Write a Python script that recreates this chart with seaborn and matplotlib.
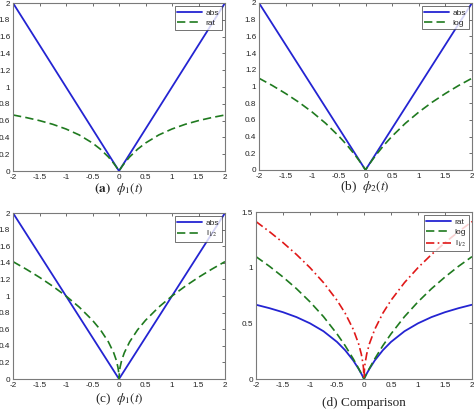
import matplotlib
matplotlib.use("Agg")
import matplotlib.pyplot as plt
import seaborn as sns
import numpy as np

# ---- data ----
t = [-2, -1.75, -1.5, -1.25, -1, -0.75, -0.5, -0.35, -0.2, -0.1, -0.05, -0.02, -0.01, 0,
     0.01, 0.02, 0.05, 0.1, 0.2, 0.35, 0.5, 0.75, 1, 1.25, 1.5, 1.75, 2]
abs_vals = [2, 1.75, 1.5, 1.25, 1, 0.75, 0.5, 0.35, 0.2, 0.1, 0.05, 0.02, 0.01, 0,
            0.01, 0.02, 0.05, 0.1, 0.2, 0.35, 0.5, 0.75, 1, 1.25, 1.5, 1.75, 2]
rat_vals = [0.667, 0.636, 0.600, 0.556, 0.500, 0.429, 0.333, 0.259, 0.167, 0.091, 0.048, 0.020, 0.010, 0,
            0.010, 0.020, 0.048, 0.091, 0.167, 0.259, 0.333, 0.429, 0.500, 0.556, 0.600, 0.636, 0.667]
log_vals = [1.099, 1.012, 0.916, 0.811, 0.693, 0.560, 0.405, 0.300, 0.182, 0.095, 0.049, 0.020, 0.010, 0,
            0.010, 0.020, 0.049, 0.095, 0.182, 0.300, 0.405, 0.560, 0.693, 0.811, 0.916, 1.012, 1.099]
l12_vals = [1.414, 1.323, 1.225, 1.118, 1.000, 0.866, 0.707, 0.592, 0.447, 0.316, 0.224, 0.141, 0.100, 0,
            0.100, 0.141, 0.224, 0.316, 0.447, 0.592, 0.707, 0.866, 1.000, 1.118, 1.225, 1.323, 1.414]

xticks = [-2, -1.5, -1, -0.5, 0, 0.5, 1, 1.5, 2]
xticklabels = ["-2", "-1.5", "-1", "-0.5", "0", "0.5", "1", "1.5", "2"]
yticks_a = [0, 0.2, 0.4, 0.6, 0.8, 1, 1.2, 1.4, 1.6, 1.8, 2]
yticklabels_a = ["0", "0.2", "0.4", "0.6", "0.8", "1", "1.2", "1.4", "1.6", "1.8", "2"]
yticks_d = [0, 0.5, 1, 1.5]
yticklabels_d = ["0", "0.5", "1", "1.5"]

captions = [r"$\mathbf{(a)}$  $\phi_1(t)$", r"(b)  $\phi_2(t)$", r"(c)  $\phi_1(t)$", "(d) Comparison"]

sns.set_style("white")
plt.rcParams["font.family"] = ["Liberation Sans", "DejaVu Sans"]
plt.rcParams["mathtext.fontset"] = "stix"

BLUE = "#2424d2"
GREEN = "#1f7a1f"
RED = "#e01818"

W, H = 474, 411
fig = plt.figure(figsize=(W / 100, H / 100), dpi=100)
fig.patch.set_facecolor("white")

def box(l, r, top, bottom):
    return [l / W, 1 - bottom / H, (r - l) / W, (bottom - top) / H]

axes = [
    fig.add_axes(box(13, 225, 3, 171)),
    fig.add_axes(box(259, 472, 3, 170)),
    fig.add_axes(box(13, 225, 213, 379)),
    fig.add_axes(box(256, 472, 212, 379)),
]

lw_solid = 1.3
lw_dash = 1.2
dash = (0, (5, 2.5))
dashdot = (0, (5, 2, 1, 2))

specs = [
    [(abs_vals, BLUE, "-", "abs"), (rat_vals, GREEN, dash, "rat")],
    [(abs_vals, BLUE, "-", "abs"), (log_vals, GREEN, dash, "log")],
    [(abs_vals, BLUE, "-", "abs"), (l12_vals, GREEN, dash, r"l$_{1/2}$")],
    [(rat_vals, BLUE, "-", "rat"), (log_vals, GREEN, dash, "log"), (l12_vals, RED, dashdot, r"l$_{1/2}$")],
]

for i, ax in enumerate(axes):
    for vals, c, ls, lab in specs[i]:
        sns.lineplot(x=t, y=vals, ax=ax, color=c, linestyle=ls, label=lab,
                     linewidth=lw_solid if ls == "-" else lw_dash, estimator=None)
    ax.set_xlim(-2, 2)
    ax.set_xticks(xticks)
    ax.set_xticklabels(xticklabels)
    if i < 3:
        ax.set_ylim(0, 2)
        ax.set_yticks(yticks_a)
        ax.set_yticklabels(yticklabels_a)
    else:
        ax.set_ylim(0, 1.5)
        ax.set_yticks(yticks_d)
        ax.set_yticklabels(yticklabels_d)
    ax.tick_params(direction="in", length=2.5, width=0.6, labelsize=5.9,
                   top=True, right=True, colors="#555555", labelcolor="#222222", pad=2)
    for s in ax.spines.values():
        s.set_color("#7a7a7a")
        s.set_linewidth(0.8)
    leg = ax.legend(loc="upper right", fontsize=6, frameon=True, fancybox=False,
                    handlelength=3.0, handletextpad=0.4, borderpad=0.3, labelspacing=0.3,
                    borderaxespad=0.4)
    leg.get_frame().set_edgecolor("#333333")
    leg.get_frame().set_linewidth(0.6)
    ax.set_xlabel("")
    ax.set_ylabel("")

cap_pos = [(119, 189), (365, 187), (119, 399), (364, 403)]
for (cx, cy), txt in zip(cap_pos, captions):
    fig.text(cx / W, 1 - cy / H, txt, ha="center", va="center", fontsize=9.5,
             family=["Liberation Serif", "DejaVu Serif"])

fig.savefig("out.png", dpi=100)
